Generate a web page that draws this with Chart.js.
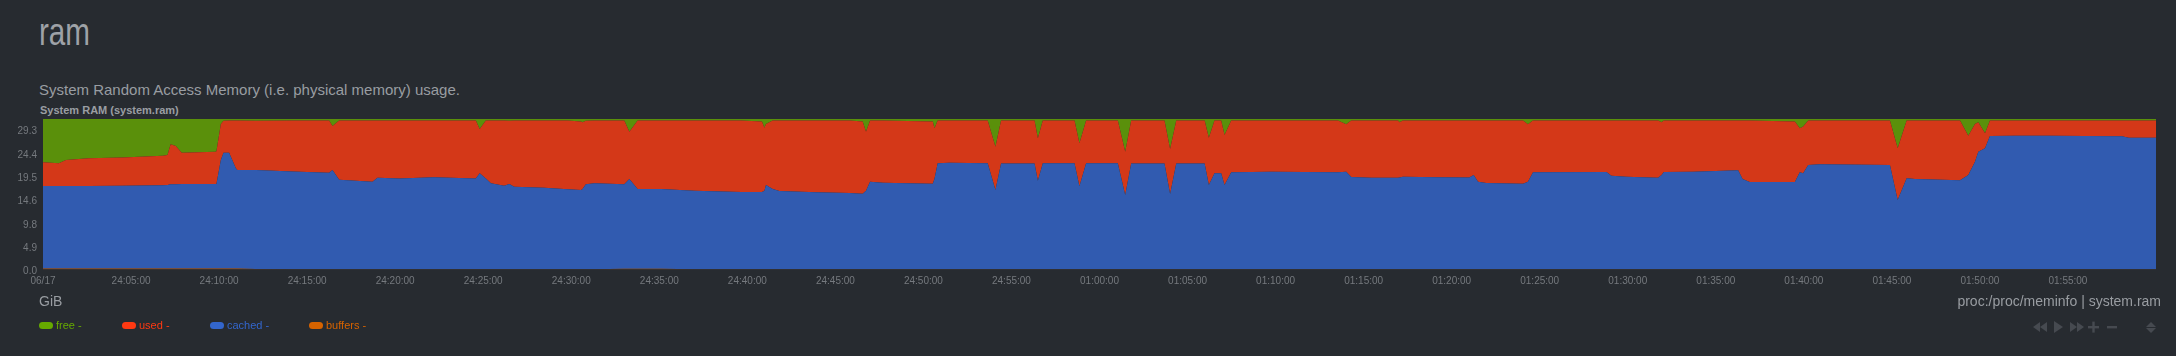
<!DOCTYPE html>
<html>
<head>
<meta charset="utf-8">
<script src="https://cdn.jsdelivr.net/npm/chart.js@4/dist/chart.umd.min.js"></script>
<style>
  html, body { margin: 0; padding: 0; background: #272b30; width: 2176px; height: 356px; overflow: hidden; }
  body { position: relative; font-family: 'Liberation Sans', Arial, Helvetica, sans-serif; }
  canvas#c { position: absolute; left: 0; top: 0; }
  .abs { position: absolute; white-space: nowrap; line-height: 1; }
  #title { left: 39px; top: 13px; font-size: 38px; color: #9ea2a7; transform: scaleX(0.78); transform-origin: left top; }
  #desc { left: 39px; top: 82px; font-size: 15px; color: #999da2; }
  #ctitle { left: 40px; top: 105px; font-size: 11px; font-weight: bold; color: #9a9ea3; }
  #units { left: 39px; top: 294px; font-size: 14px; color: #999da2; }
  #source { right: 15px; top: 294px; font-size: 14px; color: #999da2; }
  .lg { position: absolute; top: 320px; font-size: 11px; line-height: 11px; white-space: nowrap; }
  .sw { position: absolute; top: 2px; left: 0; width: 14px; height: 7px; border-radius: 3.5px; }
  .lt { position: absolute; left: 17px; top: 0; }
  #icons { position: absolute; left: 2030px; top: 319px; }
</style>
</head>
<body>
<div id="title" class="abs">ram</div>
<div id="desc" class="abs">System Random Access Memory (i.e. physical memory) usage.</div>
<div id="ctitle" class="abs">System RAM (system.ram)</div>
<canvas id="c" width="2176" height="356"></canvas>
<div id="units" class="abs">GiB</div>
<div id="source" class="abs">proc:/proc/meminfo | system.ram</div>
<div id="legend"></div>
<svg id="icons" width="140" height="16" viewBox="0 0 140 16">
  <g fill="#464a50">
    <polygon points="10,3 10,13 3,8"/><polygon points="17,3 17,13 10,8"/>
    <polygon points="24,2 24,14 33,8"/>
    <polygon points="40,3 40,13 47,8"/><polygon points="47,3 47,13 54,8"/>
    <rect x="58" y="7" width="11" height="2.4"/><rect x="62.3" y="2.6" width="2.4" height="11"/>
    <rect x="77" y="7" width="10" height="2.4"/>
    <polygon points="121,3 126,8 116,8"/><polygon points="116,9 126,9 121,14"/>
  </g>
</svg>
<script>
// ---- data (GiB), time in minutes from 00:00 of 06/17 ----
const times = [0,0.9,1.3,2.6,4.5,6.8,7.07,7.25,7.54,7.88,9.8,9.85,10.1,10.25,10.57,10.95,11.04,12.08,14.17,16.25,16.44,16.82,18.71,19.0,20.23,22.2,24.58,24.8,25.15,25.44,26.19,26.48,26.76,28.47,29.79,30.55,30.64,30.83,31.31,33.01,33.3,33.77,35.09,36.99,39.64,40.83,40.97,41.06,41.44,41.82,43.9,45.8,46.55,46.74,46.97,47.69,50.53,50.63,50.81,51.48,53.65,54.09,54.41,56.31,56.5,56.78,58.58,58.86,59.24,61.04,61.46,61.8,63.69,64.01,64.36,65.97,66.21,66.53,66.91,67.1,67.48,69.75,73.54,74.01,74.3,75.43,76.95,77.04,77.23,79.22,81.0,81.25,81.5,81.97,84.05,84.33,84.62,88.79,89.07,89.92,91.72,91.92,92.05,93.71,96.27,96.52,96.93,99.49,99.77,99.96,100.25,100.91,104.89,105.33,105.84,106.31,108.87,109.34,109.72,109.91,110.29,110.57,112.0,113.9,118.07,118.45,120];

const buffers = [0.2,0.2,0.2,0.2,0.2,0.2,0.2,0.2,0.2,0.2,0.2,0.2,0.2,0.2,0.2,0.2,0.2,0.1,0.05,0.05,0.05,0.05,0.05,0.05,0.05,0.05,0.05,0.05,0.05,0.05,0.05,0.05,0.05,0.05,0.05,0.05,0.05,0.05,0.05,0.15,0.15,0.15,0.15,0.05,0.05,0.05,0.05,0.05,0.05,0.05,0.05,0.05,0.05,0.05,0.05,0.05,0.05,0.05,0.05,0.05,0.05,0.05,0.05,0.05,0.05,0.05,0.05,0.05,0.05,0.05,0.05,0.05,0.05,0.05,0.05,0.05,0.05,0.05,0.05,0.05,0.05,0.05,0.05,0.05,0.05,0.05,0.05,0.05,0.05,0.05,0.05,0.05,0.05,0.05,0.05,0.05,0.05,0.05,0.05,0.05,0.05,0.05,0.05,0.05,0.05,0.05,0.05,0.05,0.05,0.05,0.05,0.05,0.05,0.05,0.05,0.05,0.05,0.05,0.05,0.05,0.05,0.05,0.05,0.05,0.05,0.05,0.05];

const cached = [17.3,17.3,17.3,17.3,17.35,17.44,17.5,17.65,17.65,17.7,17.7,17.7,22.76,24.3,24.3,21.0,20.66,20.76,20.5,20.25,20.81,18.78,18.35,19.2,19.05,19.27,19.05,20.11,19.05,18.01,17.52,17.85,17.32,17.11,16.75,16.62,16.85,17.8,18.01,17.7,18.82,16.73,16.73,16.48,16.19,16.19,16.45,17.65,16.85,16.4,16.13,15.99,15.85,16.45,18.36,18.15,17.95,18.95,22.21,22.35,22.21,16.62,22.15,22.15,18.57,22.21,22.21,17.39,22.21,22.21,15.57,22.15,22.15,15.78,22.15,22.15,17.65,20.11,20.11,17.65,20.32,20.45,20.32,20.45,19.34,19.2,19.2,19.25,19.41,19.27,19.25,19.76,18.36,18.08,17.94,18.35,20.32,20.39,19.62,19.41,19.2,19.75,20.39,20.45,20.74,18.92,18.29,18.29,20.32,20.11,21.85,22.0,21.85,14.52,19.06,18.92,18.64,19.76,22.55,24.65,25.35,27.95,28.01,28.01,27.87,27.59,27.59];

const used = [4.97,4.76,5.45,5.8,5.95,6.22,6.3,8.39,8.05,6.6,6.8,6.9,7.54,6.7,6.75,10.05,10.39,10.34,10.7,10.95,9.24,12.42,12.85,12.0,12.15,11.93,12.15,9.29,12.15,13.19,13.68,13.3,13.88,14.09,14.45,14.33,13.95,13.35,13.19,13.4,9.93,14.37,14.37,14.72,15.01,14.76,13.24,12.8,14.35,14.8,15.07,15.21,15.1,12.4,12.84,13.05,13.0,10.6,8.99,8.85,8.99,9.07,9.05,9.05,8.88,8.99,8.99,9.01,8.99,8.99,9.08,9.05,9.05,9.43,9.05,9.05,9.94,11.09,11.09,10.5,10.88,10.75,10.88,9.93,11.86,12.0,12.0,11.55,11.79,11.93,11.95,11.44,12.84,13.12,13.26,12.03,10.88,10.81,11.58,11.79,12.0,11.05,10.81,10.75,10.46,12.28,12.91,12.66,9.23,9.84,9.35,9.2,9.35,10.83,12.14,12.28,12.56,8.25,7.9,6.15,3.15,3.25,3.19,3.19,3.33,3.61,3.61];

const free = [9.08,9.29,8.6,8.25,8.05,7.69,7.55,5.31,5.65,7.05,6.85,6.75,1.05,0.35,0.3,0.3,0.3,0.35,0.3,0.3,1.45,0.3,0.3,0.3,0.3,0.3,0.3,2.1,0.3,0.3,0.3,0.35,0.3,0.3,0.3,0.55,0.7,0.35,0.3,0.3,2.65,0.3,0.3,0.3,0.3,0.55,1.81,1.05,0.3,0.3,0.3,0.3,0.55,2.65,0.3,0.3,0.55,1.95,0.3,0.3,0.3,5.81,0.3,0.3,4.05,0.3,0.3,5.1,0.3,0.3,6.85,0.3,0.3,6.29,0.3,0.3,3.91,0.3,0.3,3.35,0.3,0.3,0.3,1.12,0.3,0.3,0.3,0.7,0.3,0.3,0.3,0.3,0.3,0.3,0.3,1.12,0.3,0.3,0.3,0.3,0.3,0.7,0.3,0.3,0.3,0.3,0.3,0.55,1.95,1.55,0.3,0.3,0.3,6.15,0.3,0.3,0.3,3.49,1.05,0.7,3.0,0.3,0.3,0.3,0.3,0.3,0.3];

const xTickValues = [0,5,10,15,20,25,30,35,40,45,50,55,60,65,70,75,80,85,90,95,100,105,110,115];
const xTickLabels = ['06/17','24:05:00','24:10:00','24:15:00','24:20:00','24:25:00','24:30:00','24:35:00','24:40:00','24:45:00','24:50:00','24:55:00','01:00:00','01:05:00','01:10:00','01:15:00','01:20:00','01:25:00','01:30:00','01:35:00','01:40:00','01:45:00','01:50:00','01:55:00'];
const yTickValues = [0, 4.883, 9.766, 14.648, 19.531, 24.414, 29.297];
const yTickLabels = ['0.0','4.9','9.8','14.6','19.5','24.4','29.3'];
const totalRam = 31.55;

const seriesNames = ['free','used','cached','buffers'];
const legendColors = {free:'#66AA00', used:'#FE3912', cached:'#3366CC', buffers:'#D66300'};
const fillColors = {free:'#5a900b', used:'#d43818', cached:'#315bb0', buffers:'#c45f0a'};

// legend (HTML)
const legendLeft = {free:39, used:122, cached:210, buffers:309};
const lg = document.getElementById('legend');
seriesNames.forEach(n => {
  const d = document.createElement('div');
  d.className = 'lg';
  d.style.left = legendLeft[n] + 'px';
  d.innerHTML = '<span class="sw" style="background:' + legendColors[n] + '"></span><span class="lt" style="color:' + legendColors[n] + '">' + n + ' -</span>';
  lg.appendChild(d);
});

const pts = arr => arr.map((v, i) => ({x: times[i], y: v}));
const mk = (name, arr, fill) => ({
  label: name, data: pts(arr), fill: fill,
  backgroundColor: fillColors[name], borderColor: fillColors[name],
  borderWidth: 0, pointRadius: 0, tension: 0
});

const FONT = "'Liberation Sans', Arial, Helvetica, sans-serif";
new Chart(document.getElementById('c'), {
  type: 'line',
  data: {
    datasets: [
      mk('buffers', buffers, 'origin'),
      mk('cached', cached, '-1'),
      mk('used', used, '-1'),
      mk('free', free, '-1')
    ]
  },
  options: {
    responsive: false, animation: false, devicePixelRatio: 1,
    layout: { padding: { left: 0, top: 119, right: 20, bottom: 66.5 } },
    plugins: { legend: { display: false }, tooltip: { enabled: false }, title: { display: false } },
    scales: {
      x: {
        type: 'linear', min: 0, max: 120,
        grid: { display: false, drawTicks: false },
        border: { display: false },
        afterBuildTicks: s => { s.ticks = xTickValues.map(v => ({value: v})); },
        afterFit: s => { s.height = 20; },
        ticks: {
          autoSkip: false, maxRotation: 0, padding: 6,
          color: '#75797e', font: { family: FONT, size: 10 },
          callback: (v, i) => xTickLabels[i]
        }
      },
      y: {
        stacked: true, min: 0, max: totalRam,
        grid: { display: false, drawTicks: false },
        border: { display: false },
        afterBuildTicks: s => { s.ticks = yTickValues.map(v => ({value: v})); },
        afterFit: s => { s.width = 43; },
        ticks: {
          padding: 6, labelOffset: 2, color: '#75797e', font: { family: FONT, size: 10 },
          callback: (v, i) => yTickLabels[i]
        }
      }
    }
  }
});
</script>
</body>
</html>
